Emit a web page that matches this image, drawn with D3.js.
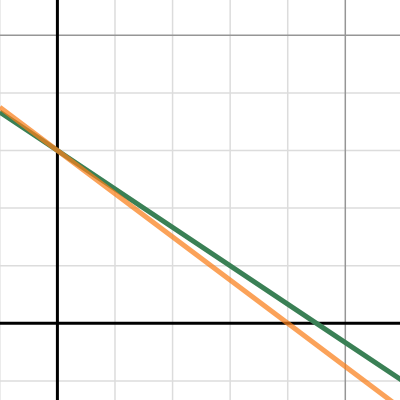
<!DOCTYPE html>
<html>
<head>
<meta charset="utf-8">
<script src="https://cdn.jsdelivr.net/npm/d3@7"></script>
<style>
  html, body { margin: 0; padding: 0; background: #fff; }
  svg { display: block; }
</style>
</head>
<body>
<script>
// grid positions (in graph units)
var xGrid = [-1, 0, 1, 2, 3, 4, 5];
var yGrid = [-1, 0, 1, 2, 3, 4, 5];
var majorGrid = [5];

// points
var greenPoints = [[-1, 3.667], [0, 3], [4.5, 0], [6, -1]];
var orangePoints = [[-1, 3.75], [0, 3], [4, 0], [6, -1.5]];

var width = 400, height = 400;

var x = d3.scaleLinear().domain([-0.997, 5.95]).range([0, width]);
var y = d3.scaleLinear().domain([-1.33, 5.612]).range([height, 0]);

var svg = d3.select('body').append('svg').attr('width', width).attr('height', height);

// minor grid
svg.append('g').selectAll('line')
  .data(xGrid.filter(function(d) { return d !== 0 && majorGrid.indexOf(d) < 0; }))
  .enter().append('line')
  .attr('x1', function(d) { return x(d); }).attr('x2', function(d) { return x(d); })
  .attr('y1', 0).attr('y2', height)
  .attr('stroke', '#dcdcdc').attr('stroke-width', 1.5);

svg.append('g').selectAll('line')
  .data(yGrid.filter(function(d) { return d !== 0 && majorGrid.indexOf(d) < 0; }))
  .enter().append('line')
  .attr('y1', function(d) { return y(d); }).attr('y2', function(d) { return y(d); })
  .attr('x1', 0).attr('x2', width)
  .attr('stroke', '#dcdcdc').attr('stroke-width', 1.5);

// major grid
svg.append('g').selectAll('line')
  .data(majorGrid)
  .enter().append('line')
  .attr('x1', function(d) { return x(d); }).attr('x2', function(d) { return x(d); })
  .attr('y1', 0).attr('y2', height)
  .attr('stroke', '#969696').attr('stroke-width', 1.5);

svg.append('g').selectAll('line')
  .data(majorGrid)
  .enter().append('line')
  .attr('y1', function(d) { return y(d); }).attr('y2', function(d) { return y(d); })
  .attr('x1', 0).attr('x2', width)
  .attr('stroke', '#969696').attr('stroke-width', 1.5);

// axes
svg.append('line')
  .attr('x1', x(0)).attr('x2', x(0)).attr('y1', 0).attr('y2', height)
  .attr('stroke', '#000').attr('stroke-width', 3);
svg.append('line')
  .attr('y1', y(0)).attr('y2', y(0)).attr('x1', 0).attr('x2', width)
  .attr('stroke', '#000').attr('stroke-width', 3);

var line = d3.line()
  .x(function(d) { return x(d[0]); })
  .y(function(d) { return y(d[1]); });

svg.append('path')
  .datum(greenPoints)
  .attr('d', line)
  .attr('fill', 'none')
  .attr('stroke', '#3a8055')
  .attr('stroke-width', 5);

svg.append('path')
  .datum(orangePoints)
  .attr('d', line)
  .attr('fill', 'none')
  .attr('stroke', '#fa7e19')
  .attr('stroke-opacity', 0.72)
  .attr('stroke-width', 5);
</script>
</body>
</html>
